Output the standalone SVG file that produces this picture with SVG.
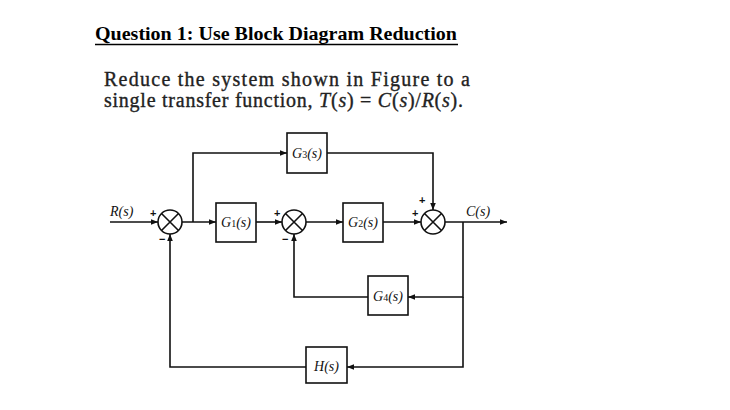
<svg xmlns="http://www.w3.org/2000/svg" width="730" height="410" viewBox="0 0 730 410">
<defs>
<marker id="ah" viewBox="0 0 10 10" refX="10" refY="5" markerWidth="7" markerHeight="7" orient="auto" markerUnits="userSpaceOnUse"><path d="M0,1 L10,5 L0,9 z" fill="#111"/></marker>
</defs>
<style>
.blk{fill:#fff;stroke:#111;stroke-width:1.6}
.ln{fill:none;stroke:#111;stroke-width:1.6}
.ar{fill:none;stroke:#111;stroke-width:1.6;marker-end:url(#ah)}
.lbl{font-family:"Liberation Serif",serif;font-style:italic;font-size:14px;fill:#111}
.sg{font-family:"Liberation Sans",sans-serif;font-weight:bold;font-size:11px;fill:#111}
.body{font-family:"Liberation Serif",serif;font-size:20px;fill:#222;stroke:#222;stroke-width:0.35}
</style>
<rect width="730" height="410" fill="#fff"/>
<text x="95" y="40" font-family="Liberation Serif,serif" font-weight="bold" font-size="19.5" fill="#000" textLength="362" lengthAdjust="spacingAndGlyphs">Question 1: Use Block Diagram Reduction</text>
<line x1="95" y1="44.5" x2="458" y2="44.5" stroke="#000" stroke-width="1.5"/>
<text class="body" x="104" y="86" textLength="366" lengthAdjust="spacing">Reduce the system shown in Figure  to a</text>
<text class="body" x="104" y="107" textLength="359" lengthAdjust="spacing">single transfer function, <tspan font-style="italic">T</tspan>(<tspan font-style="italic">s</tspan>) = <tspan font-style="italic">C</tspan>(<tspan font-style="italic">s</tspan>)/<tspan font-style="italic">R</tspan>(<tspan font-style="italic">s</tspan>).</text>
<g id="connectors">
<path class="ar" d="M110,222 H158"/>
<path class="ar" d="M182,222 H216"/>
<path class="ar" d="M193,222 V153 H287"/>
<path class="ar" d="M256,222 H282"/>
<path class="ar" d="M306,222 H343"/>
<path class="ar" d="M383,222 H421"/>
<path class="ar" d="M327,153 H433 V210"/>
<path class="ar" d="M445,222 H507"/>
<path class="ar" d="M463,222 V297 H408"/>
<path class="ar" d="M368,297 H294 V234"/>
<path class="ar" d="M463,297 V367 H347"/>
<path class="ar" d="M306,367 H170 V234"/>
</g>
<g id="sum1"><circle class="blk" cx="170" cy="222" r="12"/><path class="ln" d="M161.5,213.5 L178.5,230.5 M178.5,213.5 L161.5,230.5"/><text class="sg" x="150" y="217">+</text><text class="sg" x="159" y="243">−</text></g>
<g id="sum2"><circle class="blk" cx="294" cy="222" r="12"/><path class="ln" d="M285.5,213.5 L302.5,230.5 M302.5,213.5 L285.5,230.5"/><text class="sg" x="274" y="217">+</text><text class="sg" x="282" y="243">−</text></g>
<g id="sum3"><circle class="blk" cx="433" cy="222" r="12"/><path class="ln" d="M424.5,213.5 L441.5,230.5 M441.5,213.5 L424.5,230.5"/><text class="sg" x="412" y="217">+</text><text class="sg" x="419" y="204">+</text></g>
<g id="R"><text class="lbl" x="110" y="216">R(s)</text></g>
<g id="C"><text class="lbl" x="466" y="216">C(s)</text></g>
<g id="G1"><rect class="blk" x="216" y="203" width="40" height="39"/><text class="lbl" x="236" y="227" text-anchor="middle">G<tspan font-size="10" font-style="normal">1</tspan>(s)</text></g>
<g id="G2"><rect class="blk" x="343" y="203" width="40" height="39"/><text class="lbl" x="363" y="227" text-anchor="middle">G<tspan font-size="10" font-style="normal">2</tspan>(s)</text></g>
<g id="G3"><rect class="blk" x="287" y="133" width="40" height="40"/><text class="lbl" x="307" y="158" text-anchor="middle">G<tspan font-size="10" font-style="normal">3</tspan>(s)</text></g>
<g id="G4"><rect class="blk" x="368" y="276" width="40" height="39"/><text class="lbl" x="388" y="301" text-anchor="middle">G<tspan font-size="10" font-style="normal">4</tspan>(s)</text></g>
<g id="H"><rect class="blk" x="306" y="347" width="41" height="36"/><text class="lbl" x="326.5" y="371" text-anchor="middle">H(s)</text></g>
</svg>
